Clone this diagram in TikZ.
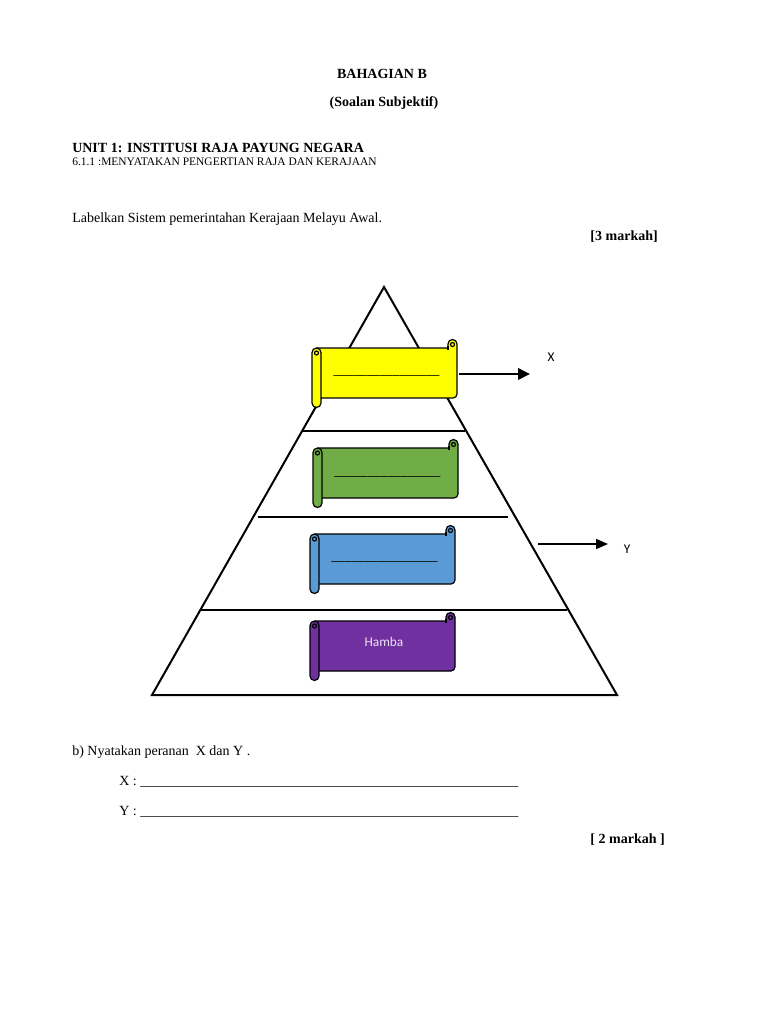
\documentclass[tikz,border=0pt]{standalone}
\usepackage{fontspec}
\setmainfont{Liberation Serif}
\newfontfamily\calibri{Carlito}
\usetikzlibrary{arrows.meta}
\definecolor{scrYellow}{RGB}{255,255,0}
\definecolor{scrGreen}{RGB}{112,173,71}
\definecolor{scrBlue}{RGB}{91,155,213}
\definecolor{scrPurple}{RGB}{112,48,160}
\definecolor{hambaText}{RGB}{236,226,246}
\def\tenus{\_\_\_\_\_\_\_\_\_\_}
\newcommand\answerline{\tenus\tenus\tenus\tenus\tenus\_\_\_\_}
\newcommand\scrollblank{\_\_\_\_\_\_\_\_\_\_\_\_\_\_\_\_}
\tikzset{
  bodytxt/.style={inner sep=0pt, font=\fontsize{10.5}{12}\selectfont},
  boldtxt/.style={inner sep=0pt, font=\fontsize{10.5}{12}\selectfont\bfseries},
  smalltxt/.style={inner sep=0pt, font=\fontsize{8.6}{10}\selectfont},
  lbltxt/.style={inner sep=0pt, font=\calibri\fontsize{10}{12}\selectfont},
  pyrside/.style={line width=1.5pt, line join=miter},
  levelline/.style={line width=1.8pt},
  scrollline/.style={line width=0.9pt, line join=round},
  arrowX/.style={line width=1.9pt, -{Triangle[length=9pt,width=8.5pt]}},
  arrowY/.style={line width=1.1pt, -{Triangle[length=9pt,width=7.5pt]}},
}
% #1 x of left roll, #2 y of body top, #3 colour, #4 name
\newcommand\myscroll[4]{%
  \begin{scope}[shift={(#1,#2)}]
    \draw[scrollline,fill=#3] (5,0) -- (136,0) -- (136,-4)
      arc[start angle=180,end angle=360,radius=4.5] -- (145,46)
      arc[start angle=0,end angle=90,radius=4] -- (5,50) -- cycle;
    \draw[scrollline] (140.5,-3.5) circle[radius=2];
    \draw[scrollline] (136,-2) -- (136,2);
    \draw[scrollline,fill=#3] (0,4.5)
      arc[start angle=180,end angle=360,radius=4.5] -- (9,55)
      arc[start angle=0,end angle=180,radius=4.5] -- cycle;
    \draw[scrollline] (4.5,5) circle[radius=2];
    \coordinate (#4-e) at (147,26);
    \coordinate (#4-c) at (74.5,25);
  \end{scope}}
\begin{document}
\begin{tikzpicture}[x=0.75pt,y=-0.75pt]
\useasboundingbox[fill=white] (0,0) rectangle (768,1024);

% header texts
\node[boldtxt,anchor=base] (title) at (382,79) {BAHAGIAN B};
\node[boldtxt,anchor=base] (sub) at (384,107) {(Soalan Subjektif)};
\node[boldtxt,anchor=base west] (unit) at (72,152) {UNIT 1: INSTITUSI RAJA PAYUNG NEGARA};
\node[smalltxt,anchor=base west] (std) at (72,165) {6.1.1 :MENYATAKAN PENGERTIAN RAJA DAN KERAJAAN};
\node[bodytxt,anchor=base west] (q) at (72,222) {Labelkan Sistem pemerintahan Kerajaan Melayu Awal.};
\node[boldtxt,anchor=base east] (m3) at (658,240) {[3 markah]};

% pyramid
\coordinate (apex) at (384,287);
\coordinate (bl) at (152,695);
\coordinate (br) at (617,695);
\draw[pyrside] (apex) -- (bl) -- (br) -- cycle;
\coordinate (l1a) at (303,431); \coordinate (l1b) at (465,431);
\coordinate (l2a) at (258,517); \coordinate (l2b) at (508,517);
\coordinate (l3a) at (201,610); \coordinate (l3b) at (567,610);
\draw[levelline] (l1a) -- (l1b);
\draw[levelline] (l2a) -- (l2b);
\draw[levelline] (l3a) -- (l3b);

% scrolls
\myscroll{312}{348}{scrYellow}{s1}
\myscroll{313}{448}{scrGreen}{s2}
\myscroll{310}{534}{scrBlue}{s3}
\myscroll{310}{621}{scrPurple}{s4}

\node[lbltxt,anchor=base] (b1) at (386.5,374) {\scrollblank};
\node[lbltxt,anchor=base] (b2) at (387.5,475) {\scrollblank};
\node[lbltxt,anchor=base] (b3) at (384.5,560) {\scrollblank};
\node[lbltxt,text=hambaText] (hamba) at (384,642) {Hamba};

% arrows and labels
\coordinate (xs) at (459,374);
\coordinate (xe) at (530,374);
\draw[arrowX] (xs) -- (xe);
\node[lbltxt] (X) at (551,357) {X};
\coordinate (ys) at (538,544);
\coordinate (ye) at (608,544);
\draw[arrowY] (ys) -- (ye);
\node[lbltxt] (Y) at (627,549) {Y};

% part b
\node[bodytxt,anchor=base west] (pb) at (72,755) {b) Nyatakan peranan\ \ X dan Y .};
\node[bodytxt,anchor=base west] (ax) at (119,785) {X : \answerline};
\node[bodytxt,anchor=base west] (ay) at (119,815) {Y : \answerline};
\node[boldtxt,anchor=base east] (m2) at (665,843) {[ 2 markah ]};
\end{tikzpicture}
\end{document}
